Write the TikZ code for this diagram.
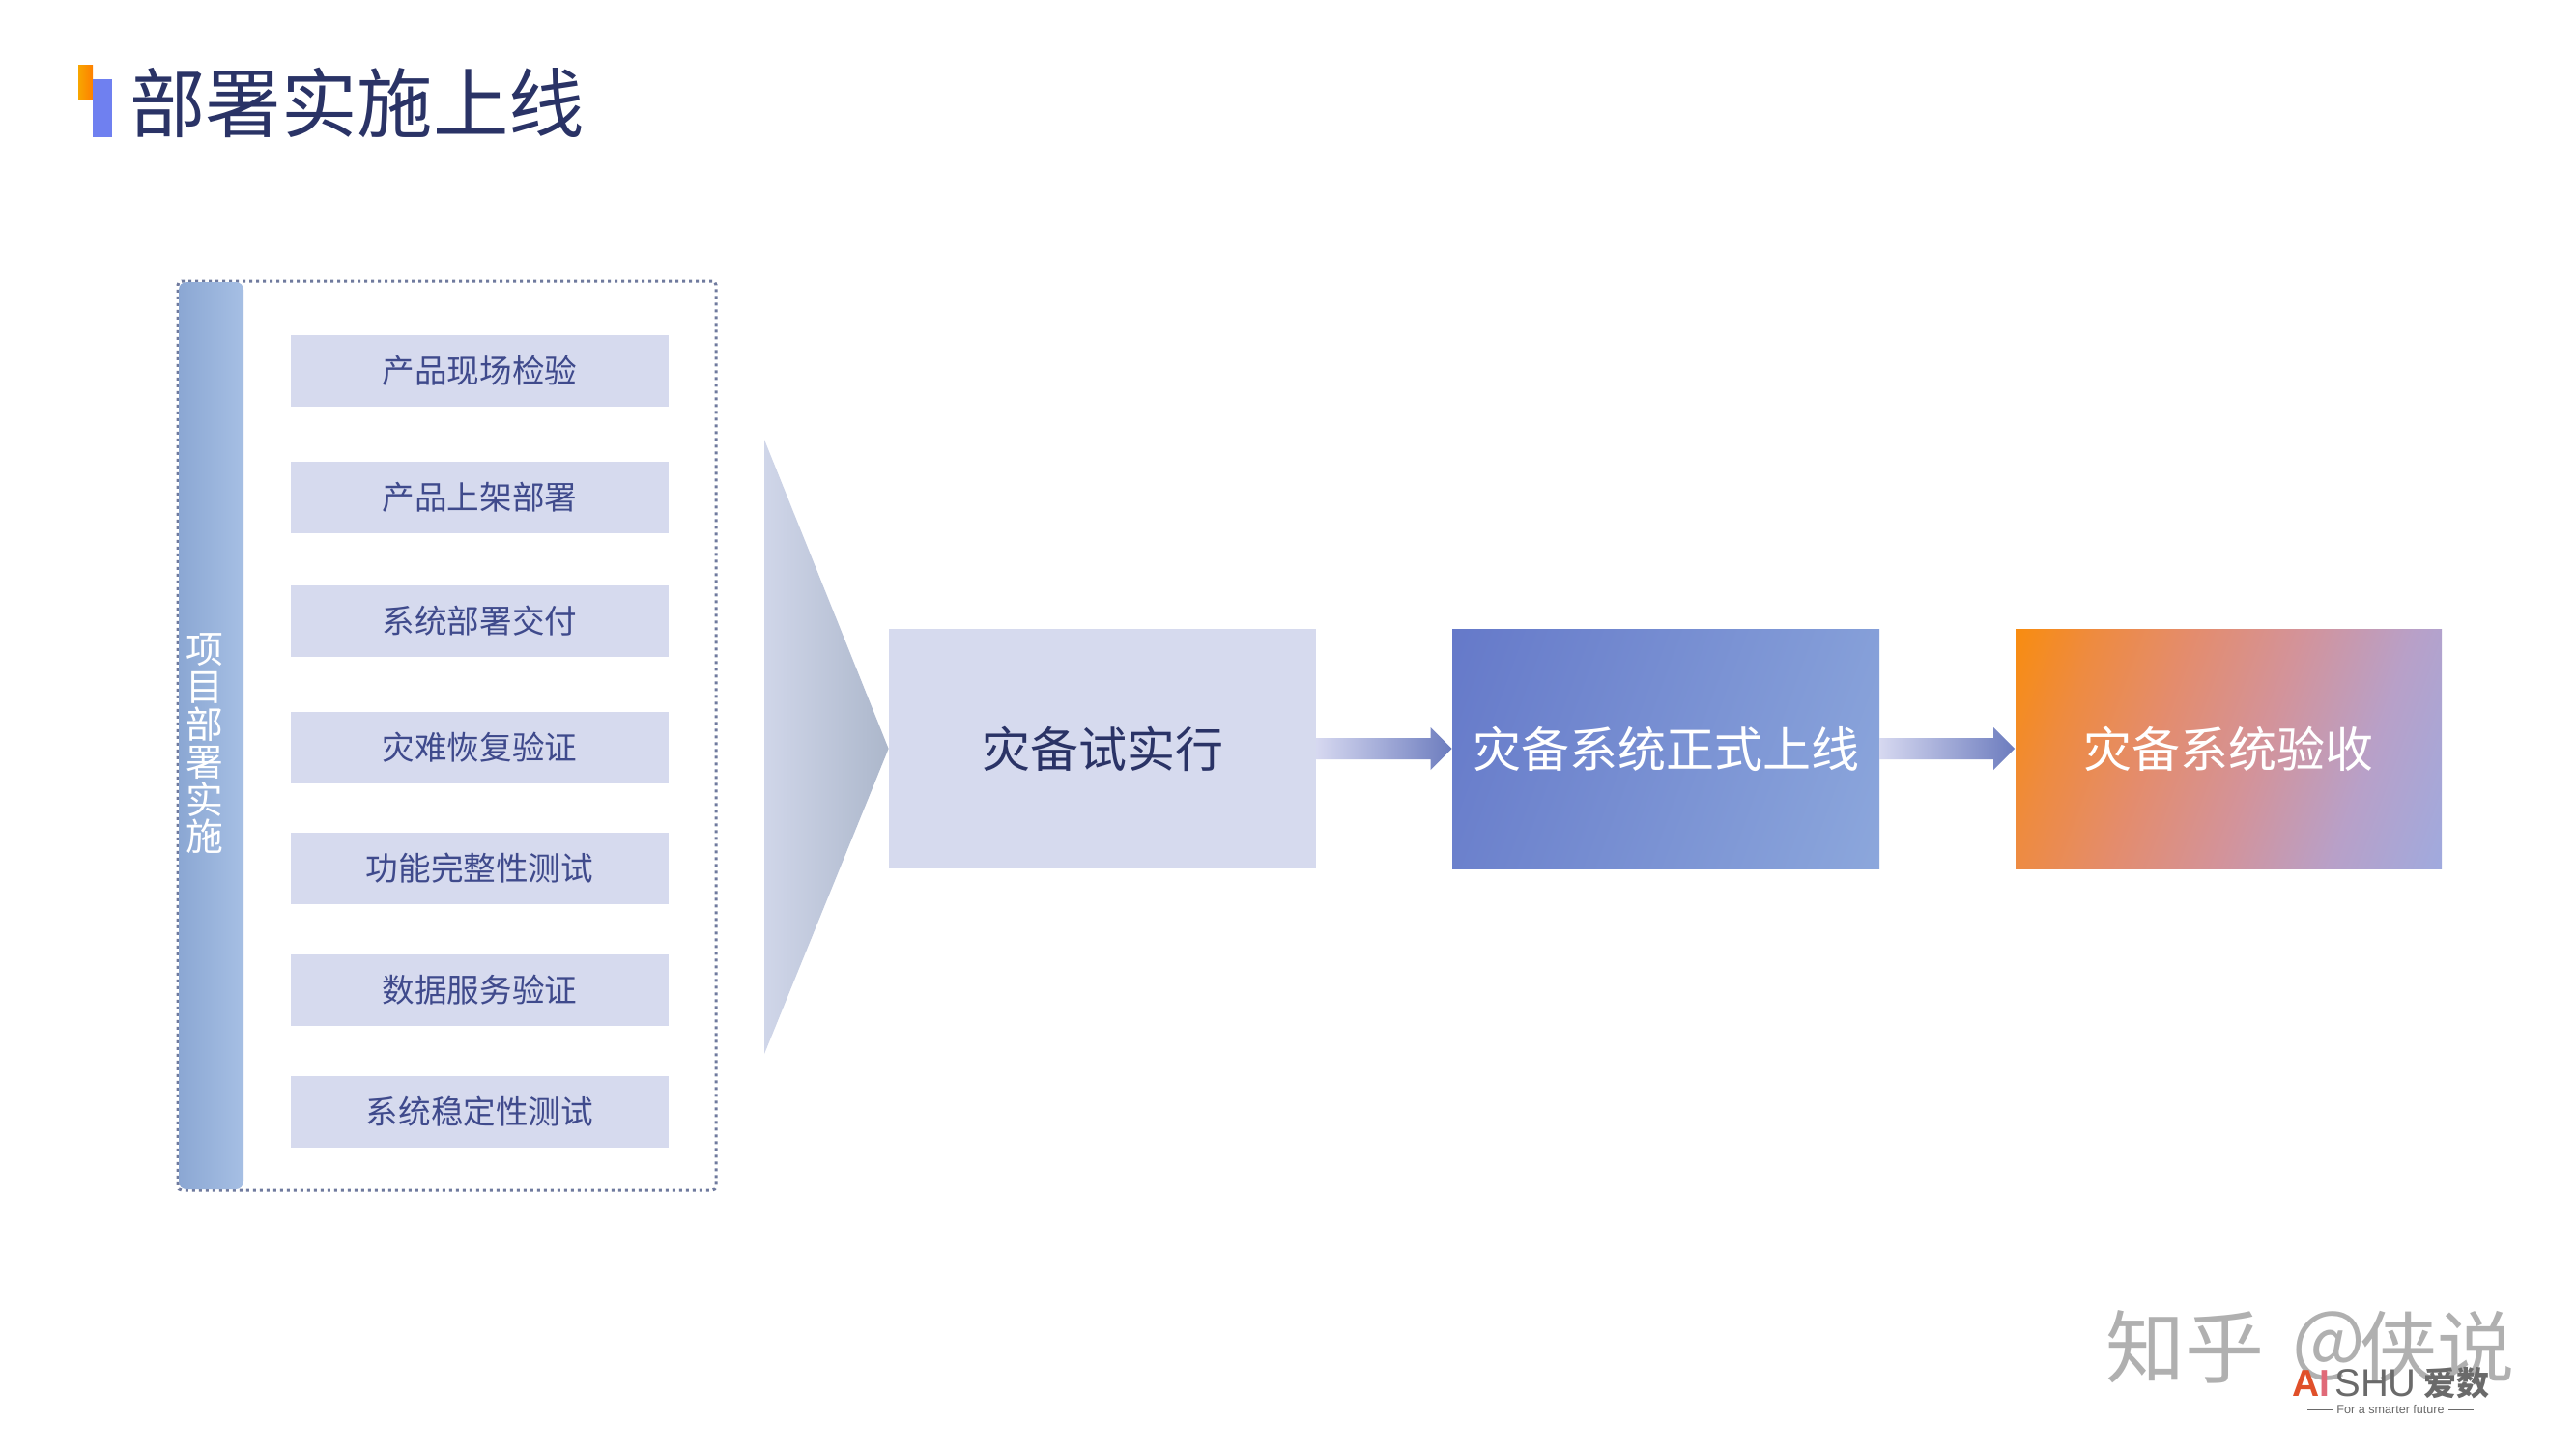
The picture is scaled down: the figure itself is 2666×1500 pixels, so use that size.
\documentclass[tikz,border=0pt]{standalone}
\usepackage{fontspec}
\usetikzlibrary{calc}
\setmainfont{Noto Sans CJK SC}
\newfontfamily\latinf{Liberation Sans}
\definecolor{navy}{HTML}{2A3366}
\definecolor{itemtext}{HTML}{3F4A8C}
\definecolor{paleblue}{HTML}{D6DAEE}
\definecolor{dotc}{HTML}{6F7A9E}
\definecolor{marka}{HTML}{F7A600}
\definecolor{markb}{HTML}{6F80F0}
\definecolor{wm}{HTML}{B0B0B0}
\definecolor{logog}{HTML}{6A6A6A}
\definecolor{barL}{HTML}{8BA7D3}
\definecolor{barR}{HTML}{A6BFE4}
\definecolor{twoA}{HTML}{6579C9}
\definecolor{twoB}{HTML}{8CA7DC}
\definecolor{tA}{HTML}{F88C10}
\definecolor{tB}{HTML}{EE8B40}
\definecolor{tC}{HTML}{E48C6C}
\definecolor{tD}{HTML}{D3939A}
\definecolor{tE}{HTML}{B8A0C8}
\definecolor{tF}{HTML}{A0AADE}
\definecolor{triA}{HTML}{D0D6E9}
\definecolor{triB}{HTML}{ACB7CB}
\definecolor{arrL}{HTML}{D6D8F0}
\definecolor{arrR}{HTML}{6C7CBE}
\definecolor{logoA}{HTML}{E0502A}
\definecolor{logoI}{HTML}{E06A78}
\pgfdeclareverticalshading{boxtwoshade}{100bp}{color(0bp)=(twoB); color(18bp)=(twoB); color(82bp)=(twoA); color(100bp)=(twoA)}
\pgfdeclareverticalshading{boxthreeshade}{100bp}{color(0bp)=(tF); color(18bp)=(tF); color(32bp)=(tE); color(46bp)=(tD); color(60bp)=(tC); color(72bp)=(tB); color(82bp)=(tA); color(100bp)=(tA)}
\tikzset{
  px/.style={x=0.5pt,y=-0.5pt},
  itembox/.style={fill=paleblue,draw=none,minimum width=195.5pt,minimum height=37pt,inner sep=0pt,text=itemtext,font=\fontsize{16.8}{18}\selectfont},
  bigbox/.style={minimum width=221pt,minimum height=124pt,inner sep=0pt,font=\fontsize{25}{28}\selectfont},
  txt/.style={inner sep=0pt,anchor=center}
}
\begin{document}
\begin{tikzpicture}[px]
\useasboundingbox (0,0) rectangle (2666,1500);
\fill[white] (0,0) rectangle (2666,1500);
% title accent
\shade[left color=marka,right color=orange] (81,67) rectangle (96,102);
\fill[markb] (96,82) rectangle (116,142);
\node[txt,anchor=west,text=navy,font=\fontsize{39.2}{42}\selectfont] (title) at (134,106) {部署实施上线};
% frame and side bar
\node[draw=dotc,line width=1.5pt,dotted,rounded corners=2pt,minimum width=278.5pt,minimum height=470.5pt,inner sep=0pt] (frame) at (462.5,761.5) {};
\shade[left color=barL,right color=barR,rounded corners=4pt] (185,292) rectangle (252,1231);
\node[txt,text=white,font=\fontsize{19.4}{19.4}\selectfont,align=center] (side) at (212,770) {项\\目\\部\\署\\实\\施};
% items
\node[itembox] (i1) at (496.5,384) {产品现场检验};
\node[itembox] (i2) at (496.5,515) {产品上架部署};
\node[itembox] (i3) at (496.5,643) {系统部署交付};
\node[itembox] (i4) at (496.5,774) {灾难恢复验证};
\node[itembox] (i5) at (496.5,899) {功能完整性测试};
\node[itembox] (i6) at (496.5,1025) {数据服务验证};
\node[itembox] (i7) at (496.5,1151) {系统稳定性测试};
% big boxes
\node[bigbox,fill=paleblue,text=navy] (b1) at (1141,775) {灾备试实行};
\shade[shading=boxtwoshade,shading angle=70] (1503,651) rectangle (1945,899);
\node[bigbox,text=white] (b2) at (1724,775) {灾备系统正式上线};
\shade[shading=boxthreeshade,shading angle=70] (2086,651) rectangle (2527,899);
\node[bigbox,text=white] (b3) at (2306.5,775) {灾备系统验收};
% funnel triangle
\shade[left color=triA,right color=triB] (791,455) -- (b1.west) -- (791,1091) -- cycle;
% arrows
\shade[left color=arrL,right color=arrR]
  ($(b1.east)+(0,-11)$) -- ($(b2.west)+(-22,-11)$) -- ($(b2.west)+(-22,-22)$) -- (b2.west) -- ($(b2.west)+(-22,22)$) -- ($(b2.west)+(-22,11)$) -- ($(b1.east)+(0,11)$) -- cycle;
\shade[left color=arrL,right color=arrR]
  ($(b2.east)+(0,-11)$) -- ($(b3.west)+(-22,-11)$) -- ($(b3.west)+(-22,-22)$) -- (b3.west) -- ($(b3.west)+(-22,22)$) -- ($(b3.west)+(-22,11)$) -- ($(b2.east)+(0,11)$) -- cycle;
% watermark
\node[txt,text=wm,font=\fontsize{41}{42}\selectfont] (wm1) at (2261,1394) {知乎};
\node[txt,text=wm,font=\fontsize{40}{42}\selectfont] (wm2) at (2410,1394) {@};
\node[txt,text=wm,font=\fontsize{40}{42}\selectfont] (wm3) at (2522,1394) {侠说};
% logo
\node[txt,anchor=west,font=\latinf\bfseries\fontsize{19.5}{20}\selectfont] (ai) at (2372,1432) {\textcolor{logoA}{A}\textcolor{logoI}{I}};
\node[txt,anchor=west,text=logog,font=\latinf\fontsize{20}{20}\selectfont] (shu) at (2416,1432) {SHU};
\node[txt,anchor=west,text=logog,font=\fontsize{17}{18}\bfseries\selectfont] (cn) at (2508,1432) {爱数};
\node[txt,text=logog,font=\latinf\fontsize{6.3}{7}\selectfont] (tag) at (2474,1459) {For a smarter future};
\draw[logog,line width=0.4pt] ($(tag.west)+(-4,0)$) -- ++(-26,0);
\draw[logog,line width=0.4pt] ($(tag.east)+(4,0)$) -- ++(26,0);
\end{tikzpicture}
\end{document}
